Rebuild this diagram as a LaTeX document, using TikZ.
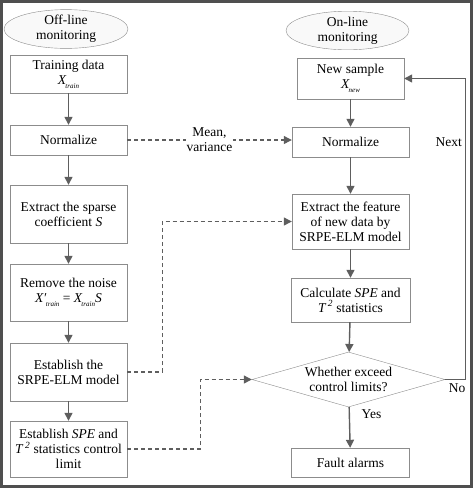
\documentclass[tikz,border=0pt]{standalone}
\usepackage{fontspec}
\setmainfont{Liberation Serif}
\usetikzlibrary{shapes.geometric,arrows.meta}
\definecolor{linegray}{HTML}{5E5E5E}
\definecolor{boxgray}{HTML}{8C8C8C}
\definecolor{framegray}{HTML}{4F4F4F}
\newcommand{\subvar}[2]{\textit{#1}\kern-0.08em\raisebox{-0.6ex}{\fontsize{7}{7}\selectfont\itshape #2}}
\newcommand{\primevar}[2]{\textit{#1′}\kern-0.05em\raisebox{-0.6ex}{\fontsize{7}{7}\selectfont\itshape #2}}
\tikzset{box/.style={draw=boxgray,fill=white,minimum width=117pt,align=center,inner sep=1pt,font=\fontsize{13.5}{15}\selectfont}}
\tikzset{elli/.style={ellipse,draw=boxgray,fill=gray!5,minimum width=124pt,minimum height=38pt,inner sep=0pt,align=center,font=\fontsize{13.5}{15}\selectfont}}
\tikzset{dia/.style={diamond,draw=boxgray,fill=white,aspect=3.5,inner sep=0pt,minimum width=193pt,minimum height=55pt,align=center,font=\fontsize{13.5}{15}\selectfont}}
\tikzset{lbl/.style={inner sep=1pt,align=center,text=black,font=\fontsize{13.5}{15}\selectfont}}
\tikzset{arr/.style={-{Triangle[length=8pt,width=8pt]},line width=1.4pt,linegray}}
\tikzset{dline/.style={-{Triangle[length=8pt,width=8pt]},line width=1.2pt,linegray,dash pattern=on 4pt off 3pt}}

\begin{document}
\begin{tikzpicture}[x=1pt,y=-1pt]
            \useasboundingbox (0,0) rectangle (474,488);
            % draw the frame
            \draw[framegray,line width=3pt] (1.5,1.2) rectangle (471.5,486.5);
            % off-line column
            \node[elli] (offl) at (66,29) {Off-line\\monitoring};
            \node[box,minimum height=38pt] (train) at (68.5,74) {Training data\\\subvar{X}{train}};
            \node[box,minimum height=30pt] (norm) at (68.5,140) {Normalize};
            \node[box,minimum height=58pt] (sparse) at (68.5,214) {Extract the sparse\\coefficient \textit{S}};
            \node[box,minimum height=57pt] (noise) at (68.5,292.5) {Remove the noise\\\primevar{X}{train} = \subvar{X}{train}\textit{S}};
            \node[box,minimum height=58pt] (model) at (68.5,372) {Establish the\\SRPE-ELM model};
            \node[box,minimum height=56pt] (limit) at (68.5,449) {Establish \textit{SPE} and\\\textit{T}\textsuperscript{\,\textit{2}} statistics control\\limit};
            % on-line column
            \node[elli,minimum width=123pt,minimum height=37pt] (onl) at (347.5,30.5) {On-line\\monitoring};
            \node[box,minimum width=107pt,minimum height=41pt] (newx) at (350.5,78.5) {New sample\\\subvar{X}{new}};
            \node[box,minimum height=30pt] (norm2) at (350.5,142) {Normalize};
            \node[box,minimum height=55pt] (feat) at (350.5,221.5) {Extract the feature\\of new data by\\SRPE-ELM model};
            \node[box,minimum width=119pt,minimum height=44pt] (calc) at (350.5,300) {Calculate \textit{SPE} and\\\textit{T}\textsuperscript{\,\textit{2}} statistics};
            \node[dia] (dec) at (348.5,379.5) {Whether exceed\\control limits?};
            \node[box,minimum width=118pt,minimum height=29pt] (alarm) at (350.5,462.5) {Fault alarms};
            % solid arrows
            \foreach \a/\b in {train/norm,norm/sparse,sparse/noise,noise/model,model/limit,newx/norm2,norm2/feat,feat/calc,calc/dec,dec/alarm}
                \draw[arr] (\a) -- (\b);
            \draw[arr] (dec.east) -- ++(20,0) coordinate (back) |- (newx.east);
            \node[lbl,anchor=east] (nxt) at (463,142) {Next};
            \node[lbl] (no) at (457,388) {No};
            \node[lbl] (yes) at (371.5,414) {Yes};
            % dashed links
            \draw[dline] (norm.east) -- node[lbl,fill=white] (mv) {Mean,\\variance} (norm.east -| norm2.west);
            \draw[dline] (model.east) -- ++(35,0) |- (feat.west);
            \draw[dline] (limit.east) -- ++(73,0) |- (dec.west);
        \end{tikzpicture}
\end{document}
